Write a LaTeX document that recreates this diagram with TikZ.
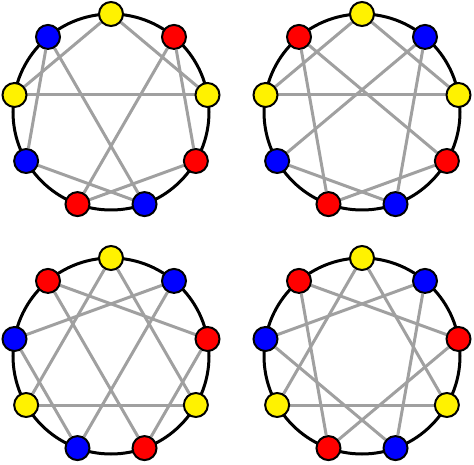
\documentclass[tikz,border=0pt]{standalone}
\usetikzlibrary{backgrounds}
\definecolor{kantgra}{RGB}{160,160,160}
\tikzset{
    vertex/.style={circle, draw=black, line width=2pt, minimum size=24pt, inner sep=0pt},
    kant/.style={draw=kantgra, line width=3pt},
    ring/.style={draw=black, line width=3pt}
}

\begin{document}
\begin{tikzpicture}[x=1pt, y=1pt]
            \useasboundingbox (0, 0) rectangle (474, 464);

            % Rita graf uppe till vänster
            \begin{scope}[shift={(111, 352)}]
                \foreach \c [count=\i from 0] in {yellow, red, yellow, red, blue, red, blue, yellow, blue} {
                        \node[vertex, fill=\c] (a\i) at (90-40*\i:98) {};
                    }
                \begin{scope}[on background layer]
                    \draw[ring] (0, 0) circle (98);
                    \foreach \u/\v in {0/2, 2/7, 7/0, 1/3, 3/5, 5/1, 4/6, 6/8, 8/4} {
                            \draw[kant] (a\u) -- (a\v);
                        }
                \end{scope}
            \end{scope}

            % Rita graf uppe till höger
            \begin{scope}[shift={(362, 352)}]
                \foreach \c [count=\i from 0] in {yellow, blue, yellow, red, blue, red, blue, yellow, red} {
                        \node[vertex, fill=\c] (b\i) at (90-40*\i:98) {};
                    }
                \begin{scope}[on background layer]
                    \draw[ring] (0, 0) circle (98);
                    \foreach \u/\v in {0/2, 2/7, 7/0, 3/5, 5/8, 8/3, 1/4, 4/6, 6/1} {
                            \draw[kant] (b\u) -- (b\v);
                        }
                \end{scope}
            \end{scope}

            % Rita graf nere till vänster
            \begin{scope}[shift={(111, 108)}]
                \foreach \c [count=\i from 0] in {yellow, blue, red, yellow, red, blue, yellow, blue, red} {
                        \node[vertex, fill=\c] (c\i) at (90-40*\i:98) {};
                    }
                \begin{scope}[on background layer]
                    \draw[ring] (0, 0) circle (98);
                    \foreach \u/\v in {0/3, 3/6, 6/0, 2/4, 4/8, 8/2, 1/5, 5/7, 7/1} {
                            \draw[kant] (c\u) -- (c\v);
                        }
                \end{scope}
            \end{scope}

            % Rita graf nere till höger
            \begin{scope}[shift={(362, 108)}]
                \foreach \c [count=\i from 0] in {yellow, blue, red, yellow, blue, red, yellow, blue, red} {
                        \node[vertex, fill=\c] (d\i) at (90-40*\i:98) {};
                    }
                \begin{scope}[on background layer]
                    \draw[ring] (0, 0) circle (98);
                    \foreach \u/\v in {0/3, 3/6, 6/0, 2/5, 5/8, 8/2, 1/4, 4/7, 7/1} {
                            \draw[kant] (d\u) -- (d\v);
                        }
                \end{scope}
            \end{scope}
        \end{tikzpicture}
\end{document}
